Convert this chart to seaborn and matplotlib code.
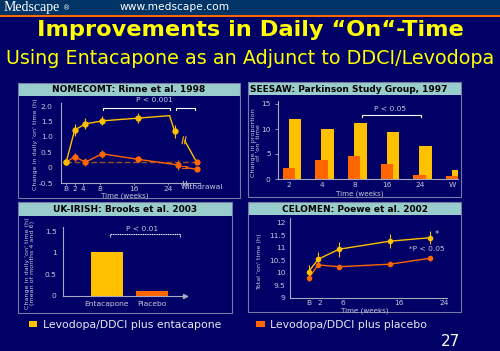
import numpy as np
import seaborn as sns
import matplotlib.pyplot as plt
from matplotlib.patches import Rectangle

# ---- data ----
# NOMECOMT (change in daily on time, h)
nom_ent_weeks = [0, 2, 4.5, 8.5, 17, 24.3, 25.5]
nom_ent = [0.17, 1.22, 1.42, 1.52, 1.61, 1.69, 1.18]
nom_ent_err = [0.05, 0.2, 0.18, 0.15, 0.15, 0.0, 0.22]
nom_ent_mark = [True, True, True, True, True, False, True]
nom_plc_weeks = [0, 2, 4.5, 8.5, 17, 26.2]
nom_plc = [0.17, 0.36, 0.18, 0.45, 0.27, 0.09]
nom_plc_err = [0.05, 0.13, 0.13, 0.12, 0.1, 0.15]
nom_wd_ent_weeks = [27.9, 30.7]
nom_wd_ent = [0.87, 0.17]
nom_wd_plc_weeks = [28.2, 30.7]
nom_wd_plc = [0.0, -0.05]
nom_baseline = 0.17
nom_ticks = [0, 2, 4, 8, 16, 24]
nom_ticklabels = ['B', '2', '4', '8', '16', '24']

# SEESAW (change in proportion of on time)
see_labels = ['2', '4', '8', '16', '24', 'W']
see_ent = [12.0, 10.1, 11.1, 9.3, 6.7, 1.8]
see_plc = [2.3, 3.9, 4.6, 3.0, 0.9, 0.7]

# UK-IRISH
uk_groups = ['Entacapone', 'Placebo']
uk_vals = [1.02, 0.11]

# CELOMEN (total on time, h)
cel_weeks = [0, 1.7, 5.4, 14.4, 21.6]
cel_ent = [10.04, 10.54, 10.94, 11.26, 11.40]
cel_ent_err = [0.28, 0.28, 0.3, 0.27, 0.25]
cel_plc = [9.78, 10.31, 10.24, 10.34, 10.58]
cel_plc_err = [0.1, 0.08, 0.08, 0.08, 0.1]
cel_ticks = [0, 2, 6, 16, 24]
cel_ticklabels = ['B', '2', '6', '16', '24']

YEL = '#FFC000'
ORG = '#FF6600'
NAVY = '#000066'
TEAL = '#99CCCC'
TXT = '#C8C8DC'
AXC = '#A8A8C0'

plt.rcParams['font.family'] = ['DejaVu Sans']

W, H = 500, 351
fig = plt.figure(figsize=(5, 3.51), dpi=100, facecolor=NAVY)

# background layer in pixel coordinates
bg = fig.add_axes([0, 0, 1, 1])
bg.set_xlim(0, W)
bg.set_ylim(H, 0)
bg.axis('off')

bg.add_patch(Rectangle((0, 0), W, 14.5, color='#003366', lw=0))
bg.add_patch(Rectangle((0, 14.5), W, 2, color=ORG, lw=0))
bg.text(4, 7.5, 'Medscape', family='Liberation Serif', color='white', fontsize=10,
        va='center', ha='left')
bg.text(63, 8.5, '®', color='white', fontsize=5, va='center', ha='left')
bg.text(120, 7.5, 'www.medscape.com', color='white', fontsize=7.7, va='center')

bg.text(250, 30, 'Improvements in Daily “On“-Time', color='#FFFF00', fontsize=16.2,
        fontweight='bold', ha='center', va='center')
bg.text(250, 59, 'Using Entacapone as an Adjunct to DDCI/Levodopa', color='#FFFF00',
        fontsize=13.8, ha='center', va='center')

panels = [
    (18, 240, 83, 198, 96, 'NOMECOMT: Rinne et al. 1998', 'center'),
    (248, 461, 82, 197, 95, 'SEESAW: Parkinson Study Group, 1997', 'left'),
    (18, 232, 202, 313, 216, 'UK-IRISH: Brooks et al. 2003', 'center'),
    (248, 461, 202, 312, 215, 'CELOMEN: Poewe et al. 2002', 'center'),
]
for l, r, t, b, tb, title, al in panels:
    bg.add_patch(Rectangle((l, t), r - l, tb - t, facecolor=TEAL, edgecolor='none'))
    bg.add_patch(Rectangle((l, t), r - l, b - t, facecolor='none', edgecolor='#7878A0', lw=0.8))
    tx = (l + r) / 2 if al == 'center' else l + 2
    bg.text(tx, (t + tb) / 2 + 0.5, title, fontsize=6.45, fontweight='bold', color='black',
            ha=al, va='center')

# axis titles placed on the slide
lab = dict(color=TXT, fontsize=4.6, ha='center', va='center')
bg.text(36, 144, "Change in daily 'on' time (h)", rotation=90, **lab)
bg.text(125, 196, 'Time (weeks)', fontsize=5.1, color=TXT, ha='center', va='center')
bg.text(256, 143, "Change in proportion\nof 'on' time", rotation=90, linespacing=0.95, **lab)
bg.text(360, 193.5, 'Time (weeks)', fontsize=5.1, color=TXT, ha='center', va='center')
bg.text(30, 263, "Change in daily 'on' time (h)\n(mean of months 4 and 6)", rotation=90,
        linespacing=0.95, **lab)
bg.text(260, 262, "Total 'on' time (h)", rotation=90, **lab)
bg.text(365, 311, 'Time (weeks)', fontsize=5.1, color=TXT, ha='center', va='center')

# legend
bg.add_patch(Rectangle((29, 321), 7.5, 5.8, color=YEL, lw=0))
bg.text(43, 324.5, 'Levodopa/DDCI plus entacapone', color='#E8E8F0', fontsize=7.8, va='center')
bg.add_patch(Rectangle((256, 321), 8.5, 5.8, color=ORG, lw=0))
bg.text(270, 324.5, 'Levodopa/DDCI plus placebo', color='#E8E8F0', fontsize=7.8, va='center')
bg.text(451, 341, '27', color='white', fontsize=11, ha='center', va='center')


def px_axes(l, r, t, b):
    return fig.add_axes([l / W, 1 - b / H, (r - l) / W, (b - t) / H])


def style(ax):
    ax.set_facecolor('none')
    for s in ['top', 'right']:
        ax.spines[s].set_visible(False)
    for s in ['left', 'bottom']:
        ax.spines[s].set_color(AXC)
        ax.spines[s].set_linewidth(0.8)
    ax.tick_params(colors=AXC, labelcolor=TXT, labelsize=5.4, length=2, width=0.6, pad=1.5)
    ax.set_xlabel('')
    ax.set_ylabel('')


# ---- NOMECOMT ----
ax1 = px_axes(61, 200.2, 103, 183.1)
ax1.set_xlim(-1.2, 31.5)
ax1.set_ylim(-0.5, 2.1)
ax1.plot([0, 30.7], [nom_baseline] * 2, color='#A05020', lw=1, ls=(0, (4, 2)))
sns.lineplot(x=nom_plc_weeks, y=nom_plc, ax=ax1, color=ORG, lw=1)
ax1.errorbar(nom_plc_weeks, nom_plc, yerr=nom_plc_err, fmt='o', ms=3.5, color=ORG,
             elinewidth=0.8, capsize=0)
sns.lineplot(x=nom_ent_weeks, y=nom_ent, ax=ax1, color=YEL, lw=1)
mk_x = [x for x, m in zip(nom_ent_weeks, nom_ent_mark) if m]
mk_y = [y for y, m in zip(nom_ent, nom_ent_mark) if m]
mk_e = [e for e, m in zip(nom_ent_err, nom_ent_mark) if m]
ax1.errorbar(mk_x, mk_y, yerr=mk_e, fmt='o', ms=3.5, color=YEL, elinewidth=0.8, capsize=0)
sns.lineplot(x=nom_wd_ent_weeks, y=nom_wd_ent, ax=ax1, color=YEL, lw=1)
sns.lineplot(x=nom_wd_plc_weeks, y=nom_wd_plc, ax=ax1, color=ORG, lw=1)
ax1.plot(nom_wd_ent_weeks[-1:], nom_wd_ent[-1:], 'o', ms=3.5, color=ORG)
ax1.plot(nom_wd_plc_weeks[-1:], nom_wd_plc[-1:], 'o', ms=3.5, color=ORG)
# break marks
for dx in (-0.35, 0.25):
    ax1.plot([27.6 + dx, 27.9 + dx], [0.78, 1.0], color=YEL, lw=0.8)
    ax1.plot([27.8 + dx, 27.8 + dx], [-0.56, -0.44], color=AXC, lw=0.8, clip_on=False)
ax1.plot([27.3, 28.3], [-0.01, -0.01], color=ORG, lw=0.7)
ax1.plot([27.3, 28.3], [0.04, 0.04], color=ORG, lw=0.7)
# significance brackets
for x0, x1 in [(8.7, 24.4), (25.8, 30.3)]:
    ax1.plot([x0, x0, x1, x1], [1.86, 1.95, 1.95, 1.86], color='white', lw=0.8, clip_on=False)
ax1.text(20.7, 2.19, 'P < 0.001', color=TXT, fontsize=5.4, ha='center', va='center')
ax1.text(31.9, -0.63, 'Withdrawal', color=TXT, fontsize=5.4, ha='center', va='center')
style(ax1)
ax1.set_xticks(nom_ticks, nom_ticklabels)
ax1.tick_params(axis='x', length=1.5, pad=0.3)
ax1.set_yticks([-0.5, 0, 0.5, 1.0, 1.5, 2.0], ['-0.5', '0', '0.5', '1.0', '1.5', '2.0'])
ax1.tick_params(axis='y', length=0, pad=6)

# ---- SEESAW ----
ax2 = px_axes(278.3, 458, 101.5, 179)
pos = np.arange(len(see_labels))
sns.barplot(x=pos + 0.18, y=see_ent, native_scale=True, width=0.38, color=YEL,
            saturation=1, errorbar=None, ax=ax2)
sns.barplot(x=pos - 0.01, y=see_plc, native_scale=True, width=0.38, color=ORG,
            saturation=1, errorbar=None, ax=ax2)
ax2.set_xlim(-0.33, 5.17)
ax2.set_ylim(0, 15.5)
ax2.plot([2.23, 2.23, 4.04, 4.04], [12.4, 12.8, 12.8, 12.4], color='white', lw=0.8)
ax2.text(3.1, 14.0, 'P < 0.05', color=TXT, fontsize=5.4, ha='center', va='center')
style(ax2)
ax2.set_xticks(pos, see_labels)
ax2.set_yticks([0, 5, 10, 15])
ax2.tick_params(axis='x', length=0, pad=2.5)
ax2.tick_params(axis='y', pad=3.5)

# ---- UK-IRISH ----
ax3 = px_axes(63.3, 186.7, 226.5, 295.7)
sns.barplot(x=uk_groups, y=uk_vals, hue=uk_groups, palette=[YEL, ORG], width=0.72,
            saturation=1, errorbar=None, legend=False, ax=ax3)
ax3.set_xlim(-0.97, 1.77)
ax3.set_ylim(0, 1.62)
ax3.plot([1.74], [0], marker='>', ms=3, color=AXC, clip_on=False)
ax3.plot([0.07, 0.07, 1.62, 1.62], [1.38, 1.44, 1.44, 1.38], color='white', lw=0.8,
         ls=(0, (1, 0.6)))
ax3.text(0.77, 1.56, 'P < 0.01', color=TXT, fontsize=5.4, ha='center', va='center')
style(ax3)
ax3.set_yticks([0, 0.5, 1, 1.5], ['0', '0.5', '1', '1.5'])
ax3.tick_params(axis='y', length=0, pad=4.8)
ax3.tick_params(axis='x', length=0, pad=4)

# ---- CELOMEN ----
ax4 = px_axes(290, 446.7, 217.7, 297.7)
sns.lineplot(x=cel_weeks, y=cel_plc, ax=ax4, color=ORG, lw=1)
ax4.errorbar(cel_weeks, cel_plc, yerr=cel_plc_err, fmt='o', ms=3, color=ORG,
             elinewidth=0.8, capsize=0)
sns.lineplot(x=cel_weeks, y=cel_ent, ax=ax4, color=YEL, lw=1)
ax4.errorbar(cel_weeks, cel_ent, yerr=cel_ent_err, fmt='o', ms=3, color=YEL,
             elinewidth=0.8, capsize=0)
ax4.set_xlim(-3.3, 24.5)
ax4.set_ylim(9, 12.2)
ax4.text(22.7, 11.52, '*', color=TXT, fontsize=6, ha='center', va='center')
ax4.text(20.9, 10.94, '*P < 0.05', color=TXT, fontsize=5.4, ha='center', va='center')
style(ax4)
ax4.set_xticks(cel_ticks, cel_ticklabels)
ax4.set_yticks([9, 9.5, 10, 10.5, 11, 11.5, 12], ['9', '9.5', '10', '10.5', '11', '11.5', '12'])
ax4.tick_params(axis='x', length=0, pad=1.8)
ax4.tick_params(axis='y', length=0, pad=3.3)

fig.savefig('out.png', dpi=100, facecolor=NAVY)
